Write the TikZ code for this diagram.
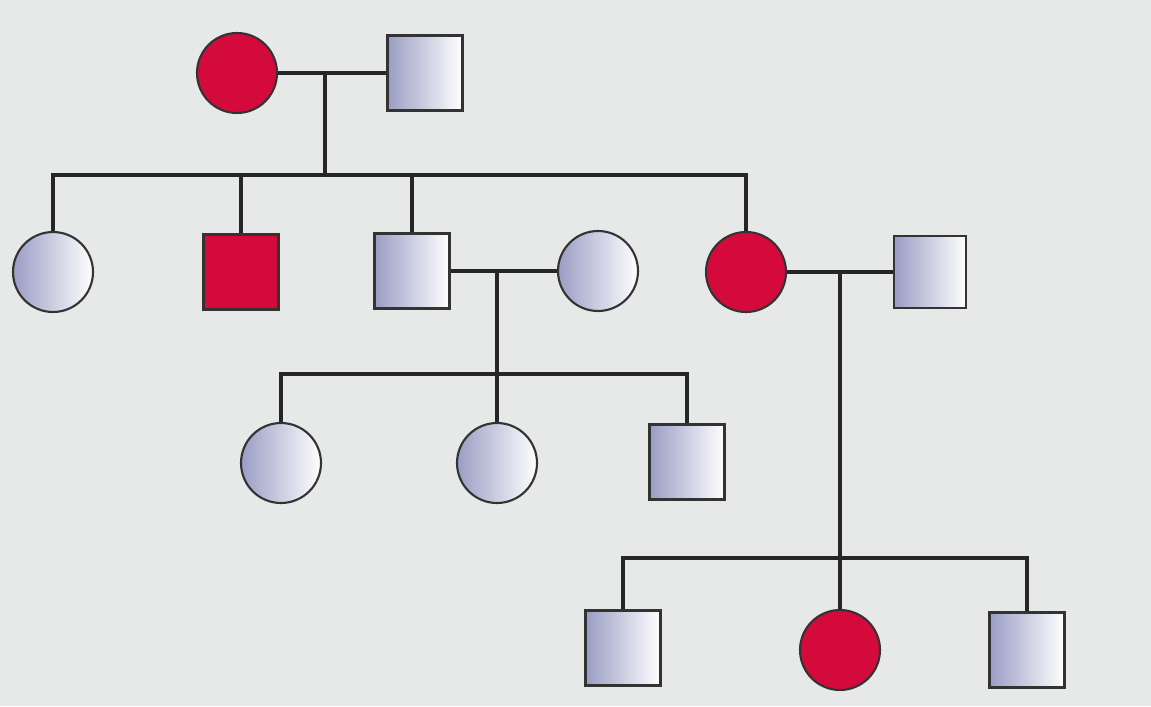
\documentclass[tikz,border=0pt]{standalone}
\usetikzlibrary{positioning}
\definecolor{aff}{HTML}{D50A3C}
\definecolor{unA}{HTML}{9A9DC4}
\definecolor{bg}{HTML}{E6E9E8}
\begin{document}
\begin{tikzpicture}[x=0.02cm,y=-0.02cm,
  fem/.style={circle,draw=black!80,line width=1.2pt,minimum size=1.6cm,inner sep=0pt,left color=unA,right color=white},
  mal/.style={rectangle,draw=black!80,line width=1.2pt,minimum size=1.5cm,inner sep=0pt,left color=unA,right color=white},
  femA/.style={fem,fill=aff,left color=aff,right color=aff},
  malA/.style={mal,fill=aff,left color=aff,right color=aff},
  ln/.style={line width=2pt,black!85}]
\fill[bg] (0,0) rectangle (1151,706);
\useasboundingbox (0,0) rectangle (1151,706);
% gen 1
\node[femA] (g1f) at (237,73) {};
\node[mal] (g1m) at (425,73) {};
% gen 2
\node[fem] (a) at (53,272) {};
\node[malA] (b) at (241,272) {};
\node[mal] (c) at (412,271) {};
\node[fem] (cw) at (598,271) {};
\node[femA] (d) at (746,272) {};
\node[mal,minimum size=1.45cm] (dh) at (930,272) {};
% gen 3
\node[fem] (e) at (281,463) {};
\node[fem] (f) at (497,463) {};
\node[mal] (g) at (687,462) {};
% gen 4
\node[mal] (h) at (623,648) {};
\node[femA] (i) at (840,650) {};
\node[mal] (j) at (1027,650) {};
% coordinates
\coordinate (m1) at (325,73);
\coordinate (s1) at (325,175);
\coordinate (m2) at (497,272);
\coordinate (s2) at (497,374);
\coordinate (m3) at (840,272);
\coordinate (s3) at (840,558);
% lines
\draw[ln] (g1f) -- (g1m);
\draw[ln] (m1) -- (s1);
\draw[ln] (a.north) |- (s1) -| (d.north);
\draw[ln] (b.north) -- (b.north |- s1);
\draw[ln] (c.north) -- (c.north |- s1);
\draw[ln] (c) -- (cw);
\draw[ln] (m2) -- (f.north);
\draw[ln] (e.north) |- (s2) -| (g.north);
\draw[ln] (d) -- (dh);
\draw[ln] (m3) -- (s3);
\draw[ln] (h.north) |- (s3) -| (j.north);
\draw[ln] (s3) -- (i.north);
\end{tikzpicture}
\end{document}
